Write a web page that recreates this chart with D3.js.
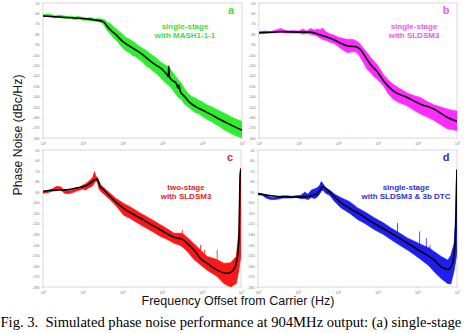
<!DOCTYPE html>
<html><head><meta charset="utf-8">
<script src="https://cdn.jsdelivr.net/npm/d3@7"></script>
<style>
html,body{margin:0;padding:0;background:#fff;}
svg{display:block;}
</style></head>
<body>
<svg id="c" width="474" height="333"></svg>
<script>
// ---- axis ticks ----
const yTicks = [-50,-60,-70,-80,-90,-100,-110,-120,-130,-140,-150,-160,-170,-180];
const xTicks = [1e2,1e3,1e4,1e5,1e6,1e7];
const xTickExp = [2,3,4,5,6,7];

// ---- panel a : single-stage with MASH1-1-1 ----
const aMeanF = [100,200,400,700,1000,1600,2500,3000,3500,4000,5000,7000,10000,15000,20000,30000,50000,70000,100000,130000,140000,145000,150000,170000,220000,250000,260000,280000,360000,490000,700000,1e6,1.7e6,2.75e6,5e6,7.2e6,1e7];
const aMean  = [-62.5,-63.3,-64,-64.5,-65,-65.8,-66.8,-67.5,-69,-72,-76,-81,-87,-91.5,-94.5,-99,-106,-110,-114,-119,-121,-111,-121,-124,-127,-132,-129,-135,-140,-146,-150,-153,-157.5,-162,-167,-170,-172.5];
const aBandF = [100,130,160,200,250,300,400,500,600,800,1000,1300,1600,2000,2500,3000,3500,4000,5000,6000,7000,8500,10000,12000,15000,18000,20000,25000,30000,40000,50000,60000,70000,85000,100000,120000,140000,160000,200000,250000,300000,350000,440000,550000,700000,850000,1e6,1.3e6,1.7e6,2.2e6,2.8e6,3.5e6,4.5e6,5.5e6,7.2e6,8.5e6,1e7];
const aBandHi = [-61.5,-60.5,-61,-62.5,-61.5,-62,-63,-62.5,-63.5,-63,-64,-64.5,-64,-65.5,-65,-65.5,-66,-68,-70,-73,-75,-78,-80,-83,-85,-87,-88,-91,-93,-96,-99,-101,-103,-106,-108,-110,-111,-114,-119,-124,-127,-132,-137,-140,-142,-144,-145,-148,-150,-152,-154,-156,-158,-160,-162,-163,-164];
const aBandLo = [-63,-62.5,-63.5,-64.5,-63.5,-64.5,-65,-64.5,-66,-65.5,-66.5,-66.5,-67,-67.5,-68,-69,-72,-76,-80,-84,-86,-90,-93,-96,-98,-101,-101,-104,-106,-111,-113,-116,-118,-121,-124,-127,-129,-131,-136,-141,-143,-147,-150,-153,-156,-157,-159,-162,-164,-167,-169,-172,-174,-176,-178,-179,-180];
const aSpikeF = [];
const aSpikeV = [];

// ---- panel b : single-stage with SLDSM3 ----
const bMeanF = [100,200,427,1000,2000,3500,5000,8000,12000,17000,22000,27500,37000,54000,70000,95000,140000,250000,550000,1.2e6,2.6e6,5.6e6,1e7];
const bMean  = [-78.6,-78.2,-77.6,-78,-78,-80.8,-82.5,-85.6,-89,-91.3,-91.8,-92,-95,-104.6,-110.5,-115.7,-125,-134.8,-141,-147.5,-152,-160,-164];
const bBandF = [100,150,200,270,350,430,550,700,1000,1300,1600,2000,2500,3000,3500,4000,5000,6500,8000,10000,13000,17000,22000,27500,33000,40000,54000,65000,80000,95000,120000,140000,180000,250000,350000,550000,800000,1.2e6,1.8e6,2.6e6,3.8e6,5.6e6,8e6,1e7];
const bBandHi = [-77.5,-77,-77.5,-76,-74.5,-76,-77,-76.5,-77,-75,-77,-74.5,-76,-75,-76,-74,-78,-80,-81,-83,-84,-85,-85,-86,-88,-92,-98,-102,-106,-109,-115,-119,-124,-128.5,-132,-136.5,-139,-141,-145,-148,-150,-152,-153.5,-154];
const bBandLo = [-79.5,-79,-79,-78.5,-78,-79,-79,-79,-79,-80,-79.5,-80,-81,-82,-84,-85,-86,-88,-89,-92,-95,-98,-97,-97,-100,-105,-114,-117,-121,-123,-127,-130,-137,-143,-146,-149,-153,-157,-160,-163,-167,-171,-172,-173];
const bSpikeF = [];
const bSpikeV = [];

// ---- panel c : two-stage with SLDSM3 ----
const cMeanF = [100,150,250,390,700,1250,1700,2050,2350,2750,3500,4900,10700,29000,93000,205000,330000,440000,650000,950000,1.4e6,2.5e6,4.6e6,6.2e6,7.9e6,8.9e6,9.5e6,1e7];
const cMean  = [-89.4,-88.5,-88,-87.8,-86,-83.7,-80.5,-78.3,-77.6,-84.6,-88,-94.1,-105.2,-114.8,-125.9,-132.9,-134.8,-138.6,-144.9,-152.9,-157.6,-164,-167.1,-164.6,-154.4,-132.2,-75,-68];
const cBandF = [100,130,170,220,280,350,430,550,700,850,1000,1200,1400,1600,1800,2000,2150,2350,2600,3000,3500,4900,7000,10700,16000,29000,50000,93000,140000,205000,270000,330000,440000,650000,950000,1.4e6,2.5e6,3.7e6,5.5e6,7.6e6,8.8e6,9.6e6,1e7];
const cBandHi = [-89,-88.5,-87,-84.5,-85,-88.5,-89,-88,-86,-85,-83.5,-82,-80,-78,-76,-70.5,-75,-76,-80,-84,-86,-91,-96,-100.5,-104,-110,-115,-121,-125,-129,-129,-129,-133,-139,-145,-151,-154,-157.6,-157,-151,-128,-68,-67];
const cBandLo = [-91,-90.5,-89,-87,-88,-91,-91.5,-90.5,-89,-88,-87,-88,-86,-85,-84,-81,-80,-80,-87,-90,-92,-97,-103,-111.6,-115,-121,-126,-132,-135,-138.6,-140,-141.7,-146,-154,-159,-164,-170,-176.7,-180,-176.7,-164,-154,-150];
const cSpikeF = [330000,950000,1.2e6,2.5e6,5.6e6];
const cSpikeV = [-126,-140,-145,-145,-151];

// ---- panel d : single-stage with SLDSM3 & 3b DTC ----
const dMeanF = [100,180,470,1230,2630,3550,4270,6300,12300,32000,85000,219000,575000,1.26e6,2.7e6,4e6,5.9e6,7.4e6,8.5e6,9.3e6,9.8e6,1e7];
const dMean  = [-91.5,-93,-94.7,-94.7,-92.8,-89,-84.8,-90,-100.2,-109.7,-120,-128.9,-138.5,-146.5,-154.5,-160.9,-163.4,-159.3,-148,-122.5,-81,-69];
const dBandF = [100,130,160,200,260,330,420,550,700,900,1200,1500,1800,2200,2600,3000,3500,3900,4300,5000,6300,8500,12300,20000,32000,50000,85000,140000,219000,350000,575000,900000,1.3e6,2e6,2.7e6,4e6,5.9e6,7e6,8.5e6,9.3e6,9.7e6,1e7];
const dBandHi = [-91,-91.5,-92.5,-94.5,-95,-94,-93.5,-93.5,-94,-93.5,-93,-90,-92,-88,-87,-86,-84,-80,-82,-86,-88,-92,-95.4,-99,-105,-109,-114.5,-119,-124,-128.5,-133.7,-137,-140,-143,-146.5,-151,-154.5,-150,-138.5,-110,-75,-68];
const dBandLo = [-92.5,-93,-95.5,-96.8,-97,-96.5,-95.5,-95.5,-95.5,-95,-96,-96,-97,-95,-96,-95,-92,-89,-88,-91,-93,-99,-105,-110,-116,-120,-125.7,-130,-135,-140,-145,-150,-154.5,-160,-165.7,-172,-176.8,-177,-164,-155,-150,-148];
const dSpikeF = [320000,1.15e6,1.7e6,2.1e6];
const dSpikeV = [-119.3,-127.3,-133.7,-140];

// ---- texts ----
const panelLetters = ["a","b","c","d"];
const panelLine1 = ["single-stage","single-stage","two-stage","single-stage"];
const panelLine2 = ["with MASH1-1-1","with SLDSM3","with SLDSM3","with SLDSM3 & 3b DTC"];
const yLabel = "Phase Noise (dBc/Hz)";
const xLabel = "Frequency Offset from Carrier (Hz)";
const caption = "Fig. 3.  Simulated phase noise performance at 904MHz output: (a) single-stage";

const panels = [
  {meanF:aMeanF, mean:aMean, bandF:aBandF, hi:aBandHi, lo:aBandLo, spF:aSpikeF, spV:aSpikeV,
   box:[43,242,3,138], color:"#2ded2d", text:"#3fdc3f", lx:185, ly:26},
  {meanF:bMeanF, mean:bMean, bandF:bBandF, hi:bBandHi, lo:bBandLo, spF:bSpikeF, spV:bSpikeV,
   box:[259,457,3,138], color:"#ff2cff", text:"#e260e6", lx:414, ly:26},
  {meanF:cMeanF, mean:cMean, bandF:cBandF, hi:cBandHi, lo:cBandLo, spF:cSpikeF, spV:cSpikeV,
   box:[43,241,150,287], color:"#ff1616", text:"#dd2626", lx:186, ly:187},
  {meanF:dMeanF, mean:dMean, bandF:dBandF, hi:dBandHi, lo:dBandLo, spF:dSpikeF, spV:dSpikeV,
   box:[258,457,150,287], color:"#1e1ef0", text:"#2f2fcf", lx:406, ly:187}
];

const svg = d3.select("#c");
const defs = svg.append("defs");

panels.forEach((p,i)=>{
  const [x0,x1,y0,y1] = p.box;
  const x = d3.scaleLog().domain([1e2,1e7]).range([x0,x1]);
  const y = d3.scaleLinear().domain([-50,-180]).range([y0,y1]);
  const g = svg.append("g");
  defs.append("clipPath").attr("id","clip"+i).append("rect")
    .attr("x",x0).attr("y",y0).attr("width",x1-x0).attr("height",y1-y0);

  // frame
  g.append("rect").attr("x",x0).attr("y",y0).attr("width",x1-x0).attr("height",y1-y0)
    .attr("fill","#fff").attr("stroke","#cfcfcf").attr("stroke-width",0.8);

  // axes
  const ya = d3.axisLeft(y).tickValues(yTicks).tickSize(1.5).tickPadding(2).tickFormat(d=>d);
  const gy = g.append("g").attr("transform",`translate(${x0},0)`).call(ya);
  const xa = d3.axisBottom(x).tickValues(xTicks).tickSize(1.5).tickPadding(2).tickFormat(()=> "");
  const gx = g.append("g").attr("transform",`translate(0,${y1})`).call(xa);
  [gy,gx].forEach(ax=>{
    ax.select(".domain").remove();
    ax.selectAll(".tick line").attr("stroke","#bbb").attr("stroke-width",0.5);
    ax.selectAll("text").attr("font-size",3.6).attr("fill","#777").attr("font-family","Liberation Sans, Arial, sans-serif");
  });
  gx.selectAll(".tick text").each(function(d,k){
    const t = d3.select(this);
    t.text(null).attr("dy","0.9em");
    t.append("tspan").text("10");
    t.append("tspan").attr("dy","-1.2").attr("font-size",2.6).text(xTickExp[k]);
  });

  const pg = g.append("g").attr("clip-path",`url(#clip${i})`);
  // noisy band
  const idx = d3.range(p.bandF.length);
  pg.append("path").datum(idx)
    .attr("d", d3.area().x(k=>x(p.bandF[k])).y0(k=>y(p.lo[k])).y1(k=>y(p.hi[k])))
    .attr("fill",p.color).attr("stroke",p.color).attr("stroke-width",0.7).attr("stroke-linejoin","miter");
  // spikes
  p.spF.forEach((f,k)=>{
    const base = d3.bisectLeft(p.bandF,f);
    const hiV = p.hi[Math.min(base,p.hi.length-1)];
    pg.append("line").attr("x1",x(f)).attr("x2",x(f)).attr("y1",y(hiV)).attr("y2",y(p.spV[k]))
      .attr("stroke",p.color).attr("stroke-width",0.8);
  });
  // mean curve
  const mi = d3.range(p.meanF.length);
  pg.append("path").datum(mi)
    .attr("d", d3.line().x(k=>x(p.meanF[k])).y(k=>y(p.mean[k])).curve(d3.curveMonotoneX))
    .attr("fill","none").attr("stroke","#000").attr("stroke-width",1.6).attr("stroke-linejoin","round");

  // labels
  g.append("text").attr("x",x1-11).attr("y",y0+11).text(panelLetters[i])
    .attr("font-family","Liberation Sans, Arial, sans-serif").attr("font-weight","bold")
    .attr("font-size",11).attr("fill",p.text).attr("text-anchor","middle");
  const lt = g.append("text").attr("font-family","Liberation Sans, Arial, sans-serif")
    .attr("font-weight","bold").attr("font-size",8).attr("fill",p.text).attr("text-anchor","middle");
  lt.append("tspan").attr("x",p.lx).attr("y",p.ly+3).text(panelLine1[i]);
  lt.append("tspan").attr("x",p.lx).attr("y",p.ly+12).text(panelLine2[i]);
});

svg.append("text").attr("transform","translate(22,135) rotate(-90)")
  .attr("text-anchor","middle").attr("font-family","Liberation Sans, Arial, sans-serif")
  .attr("font-size",12.3).attr("fill","#111").text(yLabel);
svg.append("text").attr("x",238).attr("y",305)
  .attr("text-anchor","middle").attr("font-family","Liberation Sans, Arial, sans-serif")
  .attr("font-size",12.5).attr("fill","#111").text(xLabel);
svg.append("text").attr("x",0.5).attr("y",327)
  .attr("font-family","Liberation Serif, Times New Roman, serif")
  .attr("font-size",14.6).attr("fill","#000").attr("xml:space","preserve").text(caption);
</script>
</body></html>
